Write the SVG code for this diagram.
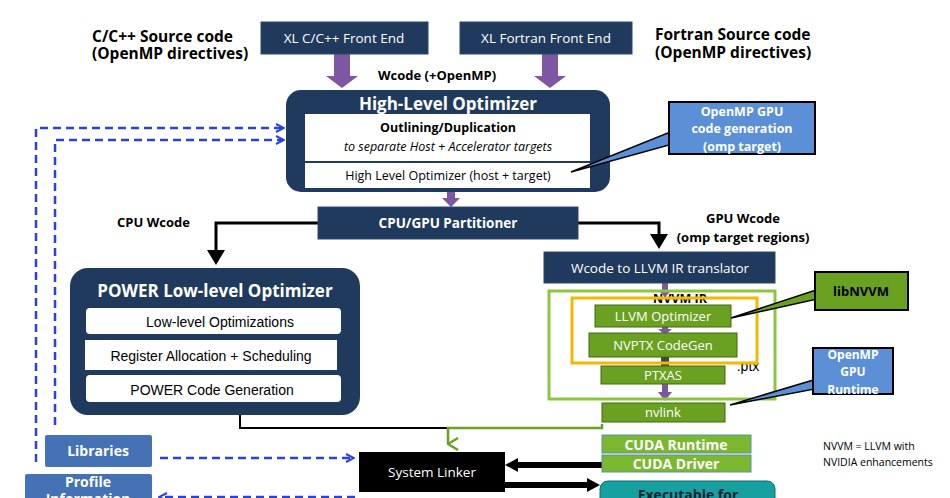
<svg xmlns="http://www.w3.org/2000/svg" width="950" height="498" viewBox="0 0 950 498">
<style>
.nv{fill:#1f3a5c;stroke:#2c4b70;stroke-width:1}
.wt{fill:#fff;font-family:"Open Sans","Liberation Sans",sans-serif;font-size:13.5px;text-anchor:middle}
.bk{fill:#000;font-family:"Open Sans","Liberation Sans",sans-serif;font-size:13px;font-weight:bold}
.gb{fill:#6aa121;stroke:#3d6b12;stroke-width:1}
.gt{fill:#fff;font-family:"Open Sans","Liberation Sans",sans-serif;font-size:13px;text-anchor:middle}
.ar{font-family:"Liberation Sans",sans-serif;font-size:14px;text-anchor:middle;fill:#000}
.pu{fill:#7e57a2}
.ds{fill:none;stroke:#2a40e0;stroke-width:2.5;stroke-dasharray:8 5}
.bl{fill:none;stroke:#000;stroke-width:3}
.cb{fill:#5b8fd6;stroke:#000;stroke-width:2}
</style>
<defs>
<marker id="ab" markerWidth="6" markerHeight="6" refX="4" refY="3" orient="auto" markerUnits="strokeWidth"><path d="M0,0 L5,3 L0,6 z" fill="#000"/></marker>
<marker id="ad" markerWidth="10" markerHeight="10" refX="8" refY="5" orient="auto" markerUnits="userSpaceOnUse"><path d="M1,1 L9,5 L1,9" fill="none" stroke="#2a40e0" stroke-width="2"/></marker>
<marker id="ag" markerWidth="14" markerHeight="12" refX="7" refY="11" orient="auto-start-reverse" markerUnits="userSpaceOnUse"><path d="M1,1 L7,11 L13,1" fill="none" stroke="#6aa121" stroke-width="2.5"/></marker>
</defs>
<rect width="950" height="498" fill="#fff"/>
<g id="labels">
<text class="bk" x="92" y="42" style="font-size:15.5px">C/C++ Source code</text>
<text class="bk" x="92" y="59" style="font-size:15.5px">(OpenMP directives)</text>
<text class="bk" x="655" y="40" style="font-size:15.5px">Fortran Source code</text>
<text class="bk" x="655" y="58" style="font-size:15.5px">(OpenMP directives)</text>
<text class="bk" x="378" y="80" style="font-size:13px">Wcode (+OpenMP)</text>
<text class="bk" x="117" y="227" style="font-size:13px">CPU Wcode</text>
<text class="bk" x="743" y="223" style="font-size:13px" text-anchor="middle">GPU Wcode</text>
<text class="bk" x="743" y="242" style="font-size:13px" text-anchor="middle">(omp target regions)</text>
<text class="bk" x="680" y="303" style="font-size:12.5px" text-anchor="middle">NVVM IR</text>
<text class="ar" x="748" y="371">.ptx</text>
<text x="823" y="450" font-family="Open Sans,Liberation Sans,sans-serif" font-size="10.5">NVVM = LLVM with</text>
<text x="823" y="466" font-family="Open Sans,Liberation Sans,sans-serif" font-size="10.5">NVIDIA enhancements</text>
</g>
<g id="connectors">
<path class="pu" d="M334,54 h16 v22 h8 l-16,12 l-16,-12 h8 z"/>
<path class="pu" d="M542,54 h16 v22 h8 l-16,12 l-16,-12 h8 z"/>
<path class="pu" d="M447,188 h8 v10 h5 l-9,9 l-9,-9 h5 z"/>
<path class="bl" d="M318,223 H216 V262" marker-end="url(#ab)"/>
<path class="bl" d="M578,223 H659 V246" marker-end="url(#ab)"/>
<path class="pu" d="M662,283 h6 v7 h4 l-7,7 l-7,-7 h4 z"/>
<path class="pu" d="M662,327 h6 v2 h4 l-7,6 l-7,-6 h4 z"/>
<rect x="661" y="357" width="8" height="9" fill="#444"/>
<path class="pu" d="M662,384 h6 v8 h4 l-7,9 l-7,-9 h4 z"/>
<path d="M240,403 V428 H448" fill="none" stroke="#000" stroke-width="2"/>
<path d="M602,424 V428 H448 V444" fill="none" stroke="#6aa121" stroke-width="2.5" marker-end="url(#ag)"/>
<path class="ds" d="M160,458 H353" marker-end="url(#ad)"/>
<path class="ds" d="M355,497 H160" marker-end="url(#ad)"/>
<path class="ds" d="M36,462 V128 H283" marker-end="url(#ad)"/>
<path class="ds" d="M55,425 V140 H283" marker-end="url(#ad)"/>
<path d="M602,465 H515" stroke="#000" stroke-width="6" fill="none"/>
<path d="M518,458 L505,465 L518,472 z"/>
<path d="M505,485 H590" stroke="#000" stroke-width="6" fill="none"/>
<path d="M587,478 L600,485 L587,492 z"/>
</g>
<g id="fe-c"><rect class="nv" x="261" y="22" width="167" height="32"/><text class="wt" x="344" y="43">XL C/C++ Front End</text></g>
<g id="fe-f"><rect class="nv" x="460" y="22" width="172" height="32"/><text class="wt" x="546" y="43">XL Fortran Front End</text></g>
<g id="hlo">
<rect x="286" y="90" width="324" height="102" rx="15" fill="#1f3a5c"/>
<text x="448" y="110" fill="#fff" font-family="Open Sans,Liberation Sans,sans-serif" font-size="17" font-weight="bold" text-anchor="middle">High-Level Optimizer</text>
<rect x="305" y="114" width="285" height="47" fill="#fff"/>
<text x="448" y="132" text-anchor="middle" font-family="Open Sans,Liberation Sans,sans-serif" font-size="12.5" font-weight="bold">Outlining/Duplication</text>
<text x="448" y="151" text-anchor="middle" font-family="Open Sans,Liberation Sans,sans-serif" font-size="12.5" font-style="italic">to separate Host + Accelerator targets</text>
<rect x="305" y="163" width="285" height="25" fill="#fff"/>
<text x="448" y="180" text-anchor="middle" font-family="Open Sans,Liberation Sans,sans-serif" font-size="12.5">High Level Optimizer (host + target)</text>
</g>
<g id="partitioner"><rect class="nv" x="318" y="207" width="260" height="32"/><text class="wt" x="448" y="228" font-weight="bold">CPU/GPU Partitioner</text></g>
<g id="callout-omp">
<path d="M571,172 L680,128 L680,142 z" fill="#5b8fd6" stroke="#000" stroke-width="1.5"/>
<rect class="cb" x="669" y="102" width="146" height="52"/>
<path d="M680,129 L680,141" stroke="#5b8fd6" stroke-width="4"/>
<text x="742" y="116" fill="#fff" font-family="Open Sans,Liberation Sans,sans-serif" font-size="12.5" font-weight="bold" text-anchor="middle">OpenMP GPU</text>
<text x="742" y="133" fill="#fff" font-family="Open Sans,Liberation Sans,sans-serif" font-size="12.5" font-weight="bold" text-anchor="middle">code generation</text>
<text x="742" y="151" fill="#fff" font-family="Open Sans,Liberation Sans,sans-serif" font-size="12.5" font-weight="bold" text-anchor="middle">(omp target)</text>
</g>
<g id="llo">
<rect x="70" y="268" width="290" height="147" rx="18" fill="#1f3a5c"/>
<text x="215" y="297" fill="#fff" font-family="Open Sans,Liberation Sans,sans-serif" font-size="17" font-weight="bold" text-anchor="middle">POWER Low-level Optimizer</text>
<rect x="86" y="308" width="255" height="26" rx="4" fill="#fff"/>
<text class="ar" x="220" y="327">Low-level Optimizations</text>
<rect x="85" y="340" width="252" height="30" fill="#fff"/>
<text class="ar" x="211" y="361">Register Allocation + Scheduling</text>
<rect x="86" y="375" width="255" height="27" rx="4" fill="#fff"/>
<text class="ar" x="212" y="395">POWER Code Generation</text>
</g>
<g id="translator"><rect class="nv" x="544" y="252" width="231" height="31"/><text class="wt" x="660" y="273">Wcode to LLVM IR translator</text></g>
<g id="nvvm-box"><rect x="549" y="291" width="226" height="108" fill="none" stroke="#8cc63f" stroke-width="3"/><rect x="572" y="298" width="185" height="65" fill="none" stroke="#f5b800" stroke-width="3"/></g>
<g id="llvm-opt"><rect class="gb" x="595" y="305" width="136" height="22"/><text class="gt" x="663" y="321">LLVM Optimizer</text></g>
<g id="nvptx"><rect class="gb" x="589" y="333" width="148" height="24"/><text class="gt" x="663" y="350">NVPTX CodeGen</text></g>
<g id="ptxas"><rect class="gb" x="601" y="366" width="124" height="18"/><text class="gt" x="663" y="380">PTXAS</text></g>
<g id="nvlink"><rect class="gb" x="602" y="403" width="123" height="19"/><text class="gt" x="663" y="417">nvlink</text></g>
<g id="libnvvm">
<path d="M731,318 L822,288 L822,298 z" fill="#6aa121" stroke="#000" stroke-width="1.5"/>
<rect x="815" y="272" width="93" height="38" fill="#6aa121" stroke="#000" stroke-width="2"/>
<path d="M822,289 L822,297" stroke="#6aa121" stroke-width="4"/>
<text x="861" y="296" font-family="Open Sans,Liberation Sans,sans-serif" font-size="13" font-weight="bold" text-anchor="middle">libNVVM</text>
</g>
<g id="omp-runtime">
<path d="M730,405 L820,378 L820,388 z" fill="#5b8fd6" stroke="#000" stroke-width="1.5"/>
<rect class="cb" x="813" y="348" width="80" height="46"/>
<path d="M820,379 L820,387" stroke="#5b8fd6" stroke-width="4"/>
<text x="853" y="359" fill="#fff" font-family="Open Sans,Liberation Sans,sans-serif" font-size="12" font-weight="bold" text-anchor="middle">OpenMP</text>
<text x="853" y="376" fill="#fff" font-family="Open Sans,Liberation Sans,sans-serif" font-size="12" font-weight="bold" text-anchor="middle">GPU</text>
<text x="853" y="394" fill="#fff" font-family="Open Sans,Liberation Sans,sans-serif" font-size="12" font-weight="bold" text-anchor="middle">Runtime</text>
</g>
<g id="cuda-runtime"><rect x="602" y="435" width="149" height="18" fill="#7cb82f" stroke="#5a8fb0"/><text class="gt" x="676" y="450" font-weight="bold" style="font-size:14px">CUDA Runtime</text></g>
<g id="cuda-driver"><rect x="602" y="455" width="149" height="17" fill="#7cb82f" stroke="#5a8fb0"/><text class="gt" x="676" y="469" font-weight="bold" style="font-size:14px">CUDA Driver</text></g>
<g id="linker"><rect x="359" y="452" width="146" height="40" fill="#000"/><text class="wt" x="432" y="477">System Linker</text></g>
<g id="executable"><rect x="600" y="481" width="175" height="30" rx="8" fill="#17a0a0" stroke="#0e6f6f"/><text x="688" y="500" font-family="Open Sans,Liberation Sans,sans-serif" font-size="14" font-weight="bold" fill="#123" text-anchor="middle">Executable for</text></g>
<g id="libraries"><rect x="45" y="435" width="107" height="32" rx="2" fill="#4472b4"/><text class="wt" x="98" y="456" font-weight="bold" style="font-size:14px">Libraries</text></g>
<g id="profile"><rect x="25" y="474" width="127" height="36" rx="2" fill="#4472b4"/><text class="wt" x="88" y="487" font-weight="bold" style="font-size:14px">Profile</text><text class="wt" x="88" y="504" font-weight="bold" style="font-size:14px">Information</text></g>
</svg>
